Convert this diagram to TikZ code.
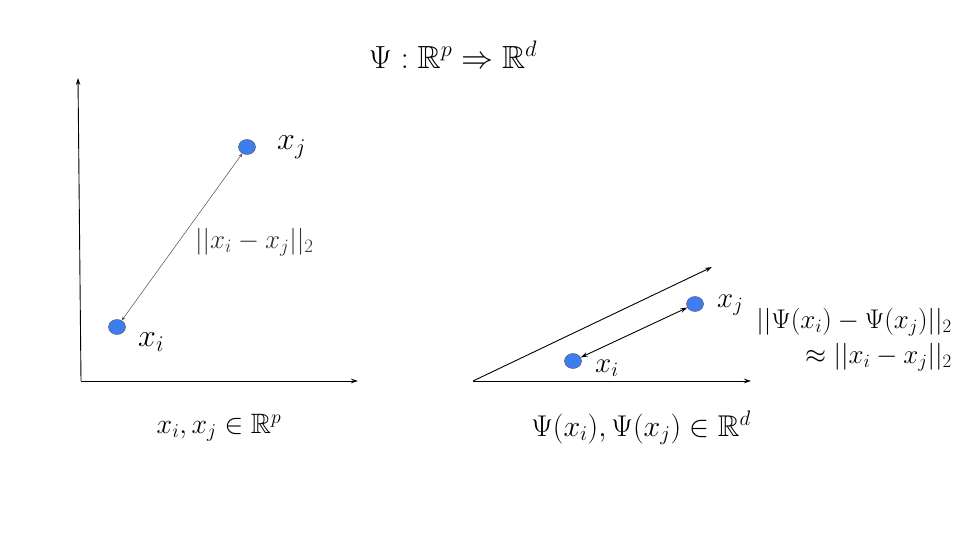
\RequirePackage{fix-cm}
\documentclass[tikz,border=0pt]{standalone}
\usepackage{amsmath,amssymb}
\usetikzlibrary{shapes.geometric,arrows.meta}
\definecolor{dotblue}{RGB}{61,125,240}

\begin{document}
\begin{tikzpicture}[x=1pt, y=-1pt,
    >={Stealth[length=7pt, width=4.5pt]},
    every node/.style={font=\fontsize{32}{36}\selectfont, inner sep=0pt},
    axis/.style={->, line width=0.9pt},
    dot/.style={ellipse, draw=black!70, fill=dotblue, minimum width=17pt, minimum height=15pt},
    ptlabel/.style={anchor=west, font=\fontsize{29}{32}\selectfont},
    distlabel/.style={font=\fontsize{27}{32}\selectfont},
    spacelabel/.style={font=\fontsize{30}{34}\selectfont}]

\useasboundingbox (0,0) rectangle (960,540);

% Title
\node (title) at (453,55) {$\Psi : \mathbb{R}^p \Rightarrow \mathbb{R}^d$};

% Left space
\coordinate (o1) at (81,381);
\coordinate (y1) at (78,78);
\coordinate (x1) at (358,381);
\draw[axis] (o1) -- (y1);
\draw[axis] (o1) -- (x1);

\node[dot] (xj1) at (247,147) {};
\node[dot] (xi1) at (117,327) {};
\draw[{Stealth[length=4pt]}-{Stealth[length=4pt]}, black!70, line width=0.5pt] (xi1) -- (xj1);

\node[ptlabel, font=\fontsize{32}{36}\selectfont] (lxj1) at (277,147) {$x_j$};
\node[ptlabel, font=\fontsize{32}{36}\selectfont] (lxi1) at (138,342) {$x_i$};
\node[distlabel, anchor=west, black!80] (dist1) at (195,242) {$||x_i - x_j||_2$};
\node[spacelabel, font=\fontsize{28}{32}\selectfont] (space1) at (219,428) {$x_i, x_j \in \mathbb{R}^p$};

% Right space
\coordinate (o2) at (473,381);
\coordinate (x2) at (751,381);
\coordinate (y2) at (712,267);
\draw[axis] (o2) -- (x2);
\draw[axis] (o2) -- (y2);

\node[dot] (xj2) at (695,304) {};
\node[dot] (xi2) at (573,361) {};
\draw[<->, line width=0.9pt] (xi2) -- (xj2);

\node[ptlabel] (lxj2) at (717,305) {$x_j$};
\node[ptlabel] (lxi2) at (595,368) {$x_i$};
\node[distlabel, anchor=east, align=right] (dist2) at (952,340)
    {$||\Psi(x_i) - \Psi(x_j)||_2$\\[3pt] $\approx ||x_i - x_j||_2$};
\node[spacelabel] (space2) at (641,428) {$\Psi(x_i), \Psi(x_j) \in \mathbb{R}^d$};

\end{tikzpicture}
\end{document}
